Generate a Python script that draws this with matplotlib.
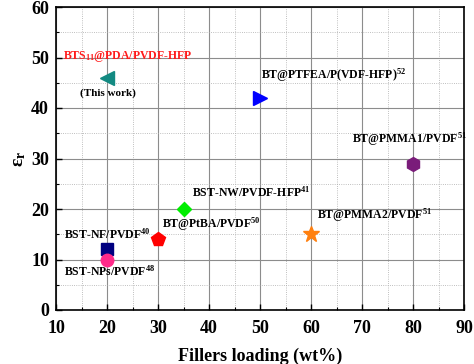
import numpy as np
import matplotlib
matplotlib.use("Agg")
import matplotlib.pyplot as plt

plt.rcParams['font.family'] = ['Liberation Serif', 'DejaVu Serif']
plt.rcParams['font.weight'] = 'bold'
plt.rcParams['mathtext.fontset'] = 'custom'
plt.rcParams['mathtext.rm'] = 'Liberation Serif:bold'
plt.rcParams['mathtext.it'] = 'Liberation Serif:italic:bold'
plt.rcParams['mathtext.bf'] = 'Liberation Serif:bold'

# data
names = ["BTS$_{11}$@PDA/PVDF-HFP", "BT@PTFEA/P(VDF-HFP)$^{52}$", "BT@PMMA1/PVDF$^{51}$",
         "BT@PMMA2/PVDF$^{51}$", "BST-NW/PVDF-HFP$^{41}$", "BT@PtBA/PVDF$^{50}$",
         "BST-NF/PVDF$^{40}$", "BST-NPs/PVDF$^{48}$"]
loading = [20, 50, 80, 60, 35, 30, 20, 20]
eps_r = [46, 42, 29, 15, 20, 14, 12, 10]
markers = ['<', '>', 'h', '*', 'D', 'p', 's', 'o']
colors = ['#138a82', '#0000ff', '#7a1c7a', '#ff8010', '#00ee00', '#ff0000', '#000080', '#ff2a8a']
sizes = [9.5, 9.5, 10, 12, 7.5, 10, 8, 9]
label_pos = [(11.4, 48.7), (50.2, 44.8), (68.0, 32.1), (61.2, 17.0),
             (36.7, 21.8), (30.8, 15.3), (11.6, 13.5), (11.6, 6.3)]
label_col = ['#ff1a1a', 'black', 'black', 'black', 'black', 'black', 'black', 'black']

fig = plt.figure(figsize=(4.74, 3.64), dpi=100)
ax = fig.add_axes([56/474, 1-310/364, 408/474, 303/364])

for i in range(len(names)):
    ax.plot(loading[i], eps_r[i], marker=markers[i], color=colors[i], ms=sizes[i],
            linestyle='none', zorder=3)
    ax.text(label_pos[i][0], label_pos[i][1], names[i], color=label_col[i],
            fontsize=8.5, fontweight='bold', va='bottom', ha='left')
ax.text(14.7, 42.0, "(This work)", fontsize=8, fontweight='bold', va='bottom')

ax.set_xlim(10, 90)
ax.set_ylim(0, 60)
ax.set_xticks(np.arange(10, 91, 10))
ax.set_yticks(np.arange(0, 61, 10))
ax.set_xticks(np.arange(15, 90, 10), minor=True)
ax.set_yticks(np.arange(5, 60, 10), minor=True)
ax.grid(which='major', color='#8c8c8c', linewidth=0.8)
ax.grid(which='minor', color='#aaaaaa', linewidth=0.6, linestyle=':')
ax.tick_params(which='both', direction='in', labelsize=13)
ax.tick_params(which='major', length=4, width=1)
ax.tick_params(which='minor', length=2.5, width=0.8)
ax.tick_params(axis='x', which='major', pad=7)
ax.tick_params(axis='y', which='major', pad=5)
for s in ax.spines.values():
    s.set_linewidth(1.2)
for lab in ax.get_xticklabels() + ax.get_yticklabels():
    lab.set_fontweight('bold')

ax.set_xlabel("Fillers loading (wt%)", fontsize=13, fontweight='bold', labelpad=8)
ax.set_ylabel("ε$_{\\mathrm{r}}$", fontsize=14, fontweight='bold', labelpad=2)

fig.savefig("out.png", dpi=100)
